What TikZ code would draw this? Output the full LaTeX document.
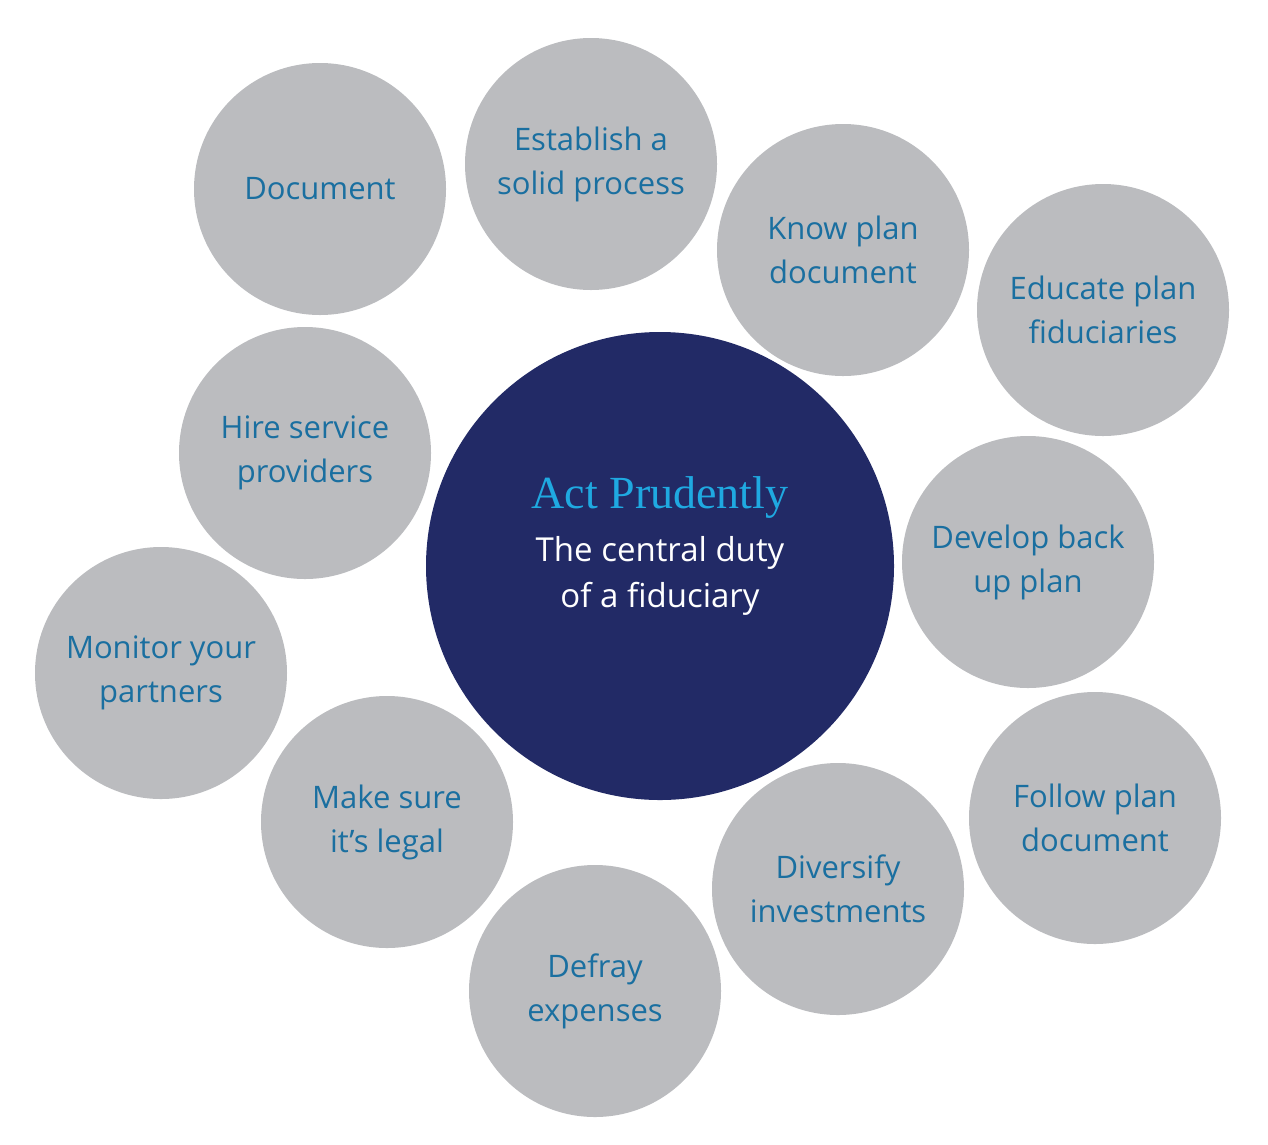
\documentclass[tikz,border=0pt]{standalone}
\usepackage{fontspec}
\setmainfont{Open Sans}
\newfontfamily\titlefont{Liberation Serif}
\definecolor{cgray}{HTML}{BBBCBF}
\definecolor{ctext}{HTML}{1A6FA0}
\definecolor{cnavy}{HTML}{222A66}
\definecolor{ccyan}{HTML}{1FA9E1}
\begin{document}
\begin{tikzpicture}[x=1pt,y=-1pt,
  bub/.style={circle,fill=cgray,minimum size=252pt,inner sep=0pt,text=ctext,align=center,font=\fontsize{31}{44}\selectfont}]
\useasboundingbox (0,0) rectangle (1268,1144);
\node[bub] (doc) at (320,189) {Document};
\node[bub] (est) at (591,164) {Establish a\\solid process};
\node[bub] (know) at (843,250) {Know plan\\document};
\node[bub] (edu) at (1103,310) {Educate plan\\fiduciaries};
\node[bub] (hire) at (305,453) {Hire service\\providers};
\node[bub] (dev) at (1028,562) {Develop back\\up plan};
\node[bub] (mon) at (161,673) {Monitor your\\partners};
\node[bub] (legal) at (387,822) {Make sure\\it’s legal};
\node[bub] (follow) at (1095,818) {Follow plan\\document};
\node[bub] (div) at (838,889) {Diversify\\investments};
\node[bub] (def) at (595,991) {Defray\\expenses};
\node[circle,fill=cnavy,minimum size=468pt,inner sep=0pt] (center) at (660,566) {};
\node[text=ccyan,font=\titlefont\fontsize{46}{50}\selectfont] (title) at (660,497) {Act Prudently};
\node[text=white,align=center,font=\fontsize{33}{46}\selectfont] (sub) at (660,576) {The central duty\\of a fiduciary};
\end{tikzpicture}
\end{document}
